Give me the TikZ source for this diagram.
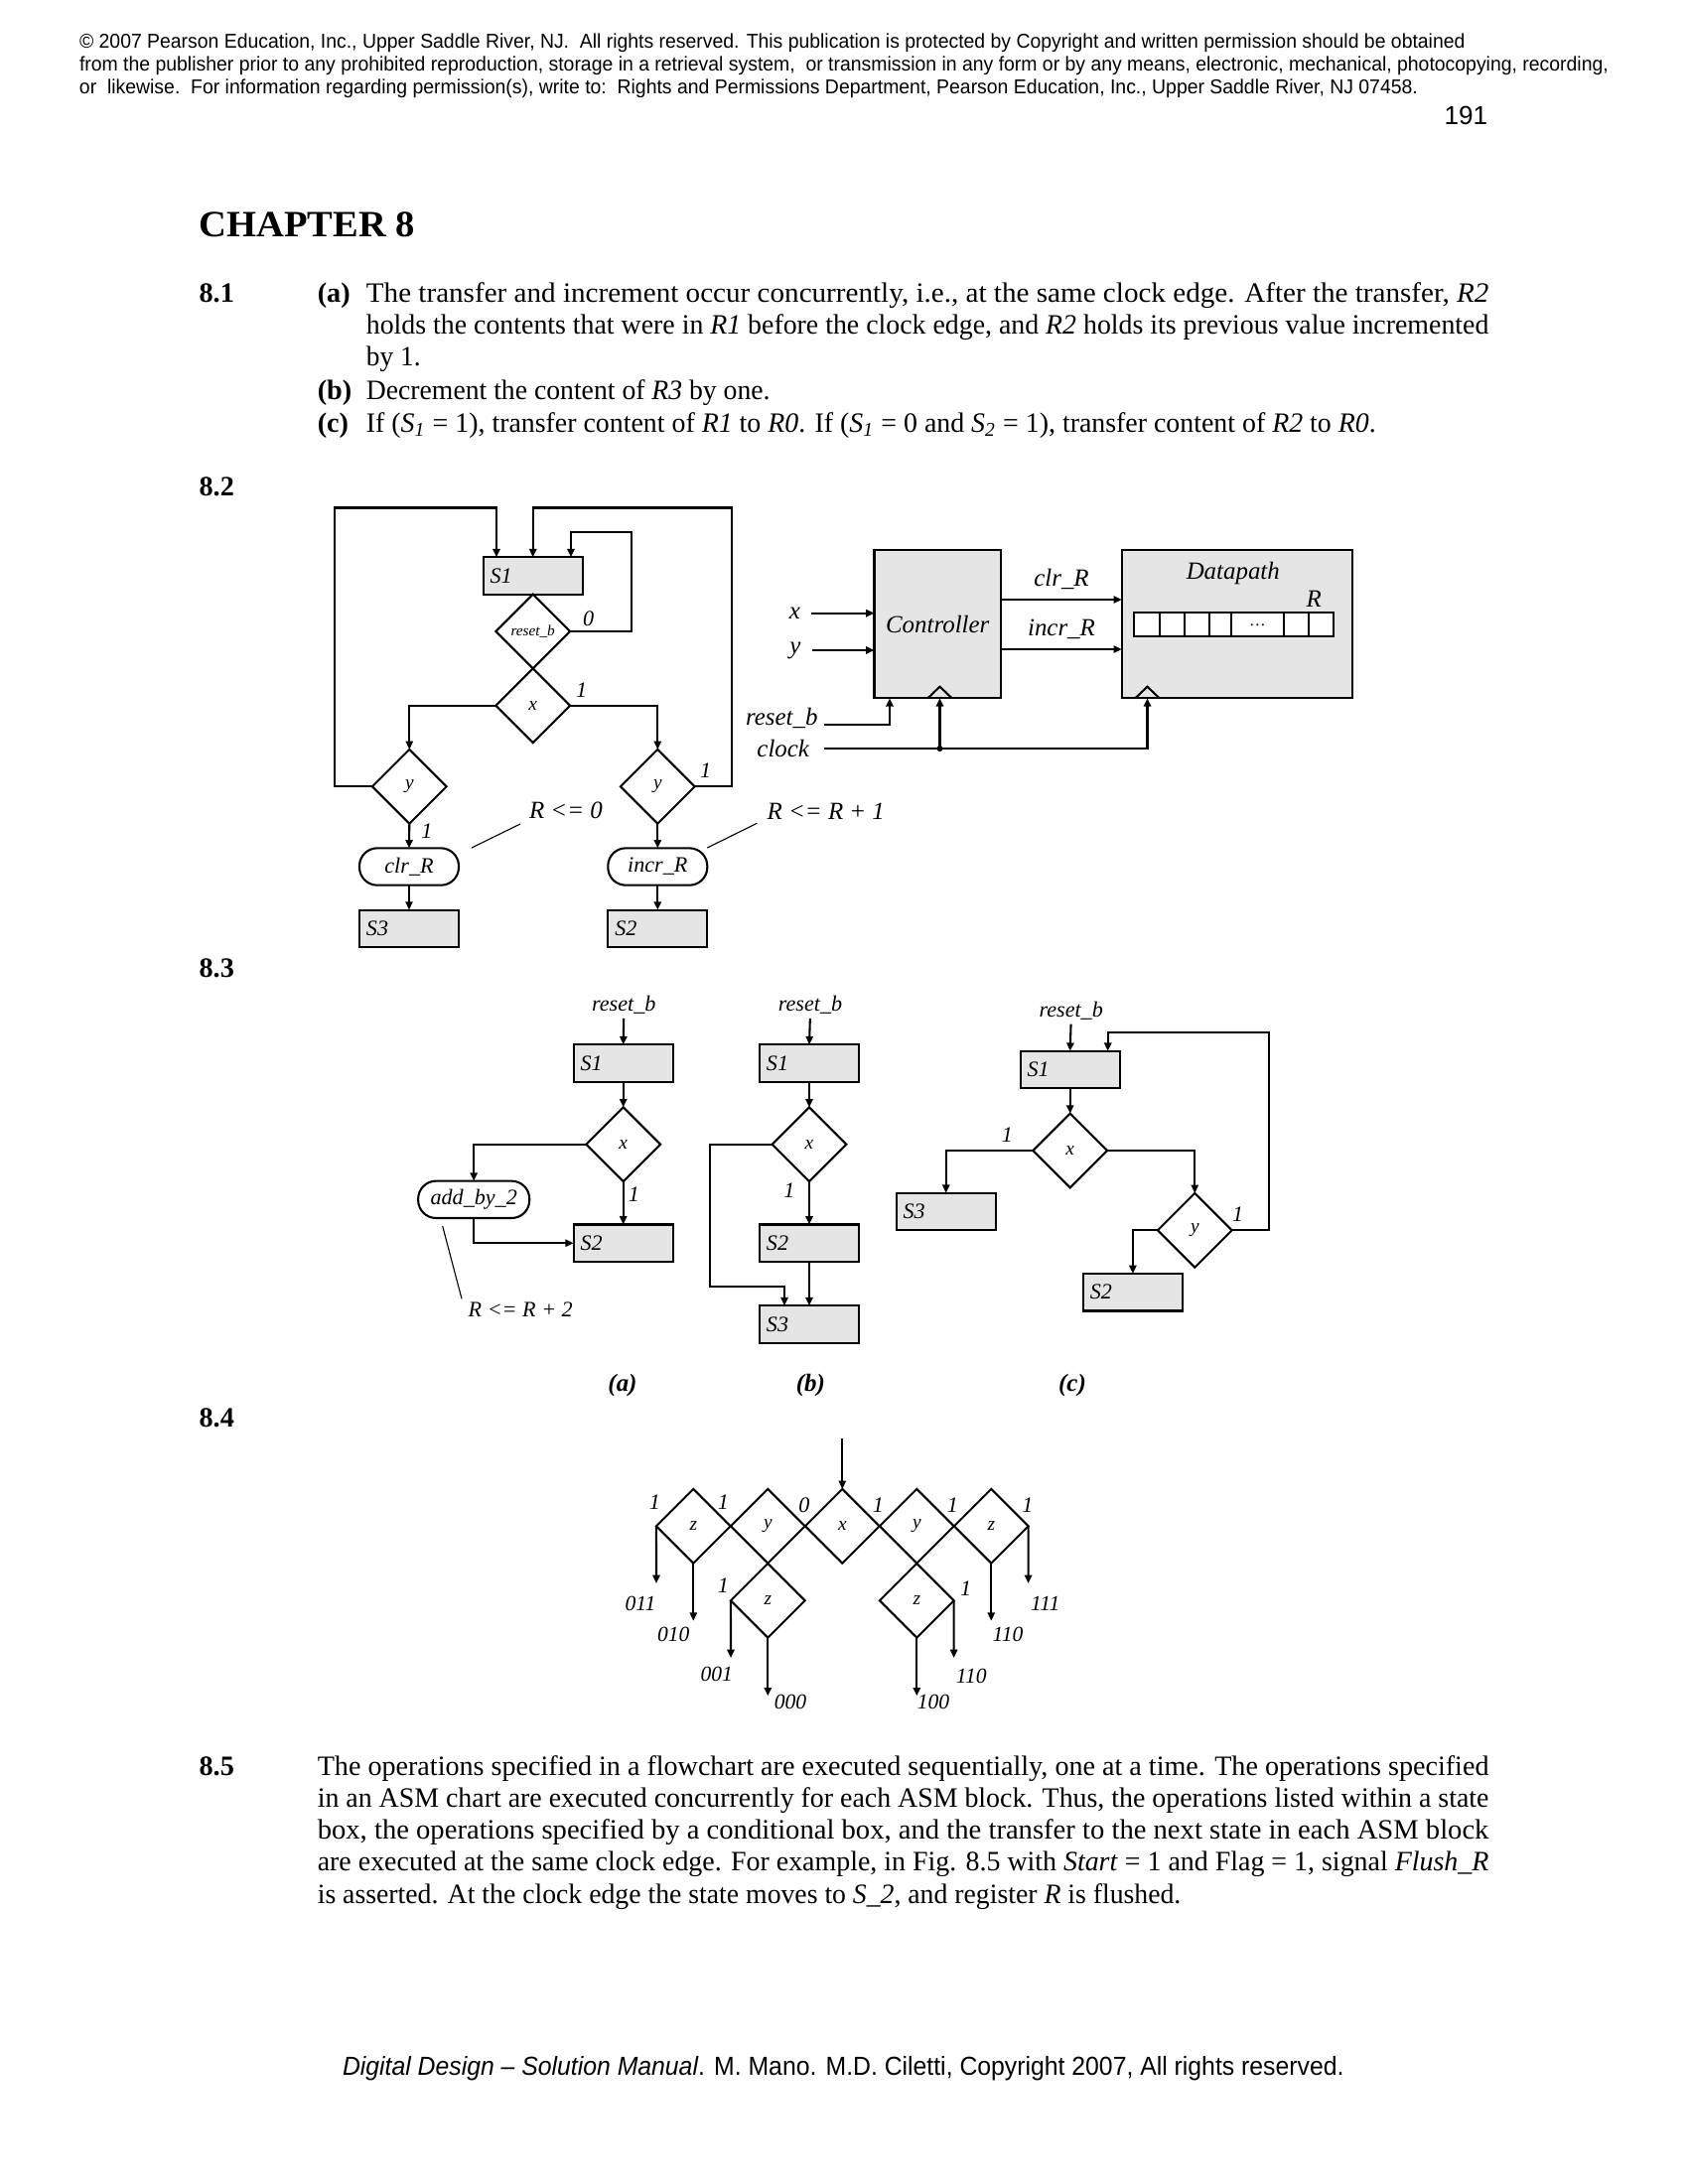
\documentclass[tikz,border=0pt]{standalone}
\usepackage{fontspec}
\setmainfont{Liberation Serif}
\newfontfamily\hdr{Liberation Sans}
\usepackage{graphicx}
\usetikzlibrary{arrows.meta,shapes.geometric,calc}

\definecolor{boxgray}{gray}{0.9}
\newdimen\pxu \pxu=0.36135pt
% fit a line of text to a width given in reference pixels
\newcommand{\fitw}[2]{\resizebox{#1\pxu}{\height}{#2}}
\newcommand{\sv}[1]{\textit{S}\textsubscript{\textit{#1}}}

\begin{document}
\begin{tikzpicture}[
  x=0.36135pt, y=-0.36135pt,
  >={Triangle[length=3pt,width=2.6pt]},
  line join=miter,
  every node/.style={inner sep=0pt, outer sep=0pt},
  hdrline/.style={anchor=base west, font=\hdr\fontsize{7.3}{8.5}\selectfont},
  body/.style={anchor=base west, font=\fontsize{10.2}{12}\selectfont},
  secnum/.style={anchor=base west, font=\fontsize{10.2}{12}\selectfont\bfseries},
  wire/.style={line width=0.75pt},
  lead/.style={line width=0.4pt},
  dlbl/.style={font=\fontsize{8}{9}\selectfont\itshape},
  blbl/.style={font=\fontsize{9}{10}\selectfont\itshape},
  nlbl/.style={font=\fontsize{7.8}{9}\selectfont\itshape},
  statebox/.style={draw, wire, fill=boxgray, minimum width=36.14pt, minimum height=13.55pt,
    text width=31.1pt, inner xsep=2.5pt, align=left, font=\fontsize{8}{9}\selectfont\itshape},
  condbox/.style={draw, wire, rounded corners=6.5pt, minimum width=36.14pt, minimum height=13.5pt,
    font=\fontsize{8}{9}\selectfont\itshape},
  decision/.style={draw, wire, diamond, aspect=1, minimum size=27pt, font=\fontsize{7}{8}\selectfont\itshape}
]
  \fill[white] (0,0) rectangle (1700,2200);
  \useasboundingbox (0,0) rectangle (1700,2200);

  % page header
  \node[hdrline] (hdr1) at (80,48.5) {\fitw{1395.6}{\textcopyright{} 2007 Pearson Education, Inc., Upper Saddle River, NJ.\ \ All rights reserved. This publication is protected by Copyright and written permission should be obtained}};
  \node[hdrline] (hdr2) at (80,71.5) {\fitw{1540}{from the publisher prior to any prohibited reproduction, storage in a retrieval system,\ \ or transmission in any form or by any means, electronic, mechanical, photocopying, recording,}};
  \node[hdrline] (hdr3) at (80,94.5) {\fitw{1348}{or\ \ likewise.\ \ For information regarding permission(s), write to:\ \ Rights and Permissions Department, Pearson Education, Inc., Upper Saddle River, NJ 07458.}};
  \node[anchor=base west, font=\hdr\fontsize{9.5}{11}\selectfont] (pgno) at (1454.5,125) {\fitw{43.5}{191}};

  \node[anchor=base west, font=\fontsize{13.5}{16}\selectfont\bfseries] (chap) at (200.6,238) {\fitw{217.4}{CHAPTER 8}};

  % 8.1
  \node[secnum] (n81) at (200.6,304) {8.1};
  \node[secnum] (p81a) at (319.8,304) {(a)};
  \node[body] (t81a1) at (368.9,304) {\fitw{1130.5}{The transfer and increment occur concurrently, i.e., at the same clock edge. After the transfer, \textit{R2}}};
  \node[body] (t81a2) at (368.9,336.2) {\fitw{1130.5}{holds the contents that were in \textit{R1} before the clock edge, and \textit{R2} holds its previous value incremented}};
  \node[body] (t81a3) at (368.9,368.5) {\fitw{54.7}{by 1.}};
  \node[secnum] (p81b) at (319.8,402.1) {(b)};
  \node[body] (t81b) at (368.9,402.1) {\fitw{406.7}{Decrement the content of \textit{R3} by one.}};
  \node[secnum] (p81c) at (319.8,435.8) {(c)};
  \node[body] (t81c) at (368.9,435.8) {\fitw{1016.9}{If (\sv{1} = 1), transfer content of \textit{R1} to \textit{R0}. If (\sv{1} = 0 and \sv{2} = 1), transfer content of \textit{R2} to \textit{R0}.}};

  % 8.2 ASM chart
  \node[secnum] (n82) at (200.6,499) {8.2};
  \node[statebox] (s1) at (536.7,580) {S1};
  \node[decision, font=\fontsize{5.5}{6}\selectfont\itshape] (rst) at (536.7,636) {reset\_b};
  \node[decision] (xd) at (536.7,710.7) {x};
  \node[decision] (yl) at (412.3,792.3) {y};
  \node[decision] (yr) at (662.3,792.3) {y};
  \node[condbox] (clr) at (412,873) {clr\_R};
  \node[condbox] (incr) at (662.3,873) {incr\_R};
  \node[statebox] (s3) at (412,935.3) {S3};
  \node[statebox] (s2) at (662.3,935.3) {S2};

  \coordinate (loopL) at (337.3,511.5);
  \coordinate (loopR) at (736.7,511.5);
  \coordinate (loopS) at (636,536);
  \coordinate (inL) at (500,561.25);
  \coordinate (inS) at (575,561.25);
  \draw[wire,->] (yl.west) -| (loopL) -| (inL);
  \draw[wire,->] (yr.east) -| (loopR) -| (s1.north);
  \draw[wire,->] (rst.east) -| (loopS) -| (inS);
  \draw[wire,->] (xd.west) -| (yl.north);
  \draw[wire,->] (xd.east) -| (yr.north);
  \draw[wire,->] (yl.south) -- (clr.north);
  \draw[wire,->] (clr.south) -- (s3.north);
  \draw[wire,->] (yr.south) -- (incr.north);
  \draw[wire,->] (incr.south) -- (s2.north);
  \node[dlbl] (b0) at (592.7,623) {0};
  \node[dlbl] (b1) at (585.7,695) {1};
  \node[dlbl] (b2) at (430,837) {1};
  \node[dlbl] (b3) at (710.7,776) {1};

  \coordinate (ldA1) at (475,854);
  \coordinate (ldA2) at (524,830);
  \draw[lead] (ldA1) -- (ldA2);
  \node[blbl, anchor=base west] (opA) at (533,824) {R <= 0};
  \coordinate (ldB1) at (712.3,854);
  \coordinate (ldB2) at (762.3,829.3);
  \draw[lead] (ldB1) -- (ldB2);
  \node[blbl, anchor=base west] (opB) at (772.7,825) {R <= R + 1};

  % block diagram
  \node[draw, wire, fill=boxgray, minimum width=46.07pt, minimum height=53.95pt, blbl] (ctrl) at (944.25,628.65) {Controller};
  \node[draw, wire, fill=boxgray, minimum width=83.9pt, minimum height=53.95pt] (dp) at (1245.9,628.65) {};
  \node[blbl] (dptxt) at (1241.8,577.3) {Datapath};
  \node[blbl] (rname) at (1323.3,603.3) {R};
  \node[draw, wire, fill=white, minimum width=72.45pt, minimum height=8.67pt] (reg) at (1242.65,628.7) {};
  \foreach \cx in {1167.7,1192.6,1217.8,1240.2,1292.8,1317.6}
    \draw[wire] (\cx,616.7) -- (\cx,640.7);
  \node[font=\fontsize{6}{7}\selectfont] (dots) at (1266.5,630) {\dots};
  \draw[wire] (934.3,703.3) -- (946.5,691.7) -- (958.7,703.3);
  \draw[wire] (1143.3,703.3) -- (1155.5,691.7) -- (1167.7,703.3);

  \coordinate (clrout) at (1008,604);
  \coordinate (incrout) at (1008,654);
  \draw[wire,->] (clrout) -- (clrout -| dp.west);
  \draw[wire,->] (incrout) -- (incrout -| dp.west);
  \node[blbl] (clrsig) at (1069,583.3) {clr\_R};
  \node[blbl] (incrsig) at (1069,634) {incr\_R};

  \node[blbl] (xin) at (800.3,617.7) {x};
  \node[blbl] (yin) at (801,655) {y};
  \draw[wire,->,shorten <=4pt] (xin.east) -- (xin.east -| ctrl.west);
  \draw[wire,->,shorten <=4pt] (yin.east) -- (yin.east -| ctrl.west);
  \node[blbl, anchor=base east] (rstin) at (823.5,730) {reset\_b};
  \coordinate (ctrlrst) at (896,703.3);
  \draw[wire,->,shorten <=2.5pt] (rstin.base east) -| (ctrlrst);
  \node[blbl, anchor=east] (clkin) at (815,754) {clock};
  \coordinate (clkj) at (946.5,754);
  \coordinate (ctrlclk) at (946.5,703.3);
  \coordinate (dpclk) at (1155.5,703.3);
  \draw[wire,->,shorten <=5.4pt] (clkin.east) -| (dpclk);
  \draw[wire,->] (clkj) -- (ctrlclk);
  \fill (clkj) circle (1.1pt);

  % 8.3 (a)
  \node[secnum] (n83) at (200.6,984) {8.3};
  \node[dlbl] (rstA) at (628.3,1012.7) {reset\_b};
  \node[statebox] (s1A) at (627.7,1071) {S1};
  \node[decision] (xA) at (627.7,1152.7) {x};
  \node[condbox, minimum width=40.5pt] (addA) at (477.2,1208.3) {add\_by\_2};
  \node[statebox] (s2A) at (627.7,1252.2) {S2};
  \draw[wire,->,shorten <=1.5pt] (rstA.south) -- (s1A.north);
  \draw[wire,->] (s1A.south) -- (xA.north);
  \draw[wire,->] (xA.west) -| (addA.north);
  \draw[wire,->] (addA.south) |- (s2A.west);
  \draw[wire,->] (xA.south) -- (s2A.north);
  \node[dlbl] (oneA) at (638.3,1203.3) {1};
  \coordinate (ldC1) at (445.7,1235);
  \coordinate (ldC2) at (465,1308.3);
  \draw[lead] (ldC1) -- (ldC2);
  \node[dlbl, anchor=base west] (opC) at (471.7,1326.7) {R <= R + 2};

  % 8.3 (b)
  \node[dlbl] (rstB) at (816,1012.7) {reset\_b};
  \node[statebox] (s1B) at (815,1071) {S1};
  \node[decision] (xB) at (815,1152.7) {x};
  \node[statebox] (s2B) at (815,1252.2) {S2};
  \node[statebox] (s3B) at (815,1333.9) {S3};
  \coordinate (loopB) at (715,1296);
  \coordinate (inB) at (790,1315.15);
  \draw[wire,->,shorten <=1.5pt] (rstB.south) -- (s1B.north);
  \draw[wire,->] (s1B.south) -- (xB.north);
  \draw[wire,->] (xB.south) -- (s2B.north);
  \draw[wire,->] (xB.west) -| (loopB) -| (inB);
  \draw[wire,->] (s2B.south) -- (s3B.north);
  \node[dlbl] (oneB) at (795,1199.3) {1};

  % 8.3 (c)
  \node[dlbl] (rstC) at (1078.7,1018.3) {reset\_b};
  \node[statebox] (s1C) at (1077.7,1077.5) {S1};
  \node[decision] (xC) at (1077.7,1159) {x};
  \node[statebox] (s3C) at (952.7,1220.5) {S3};
  \node[decision] (yC) at (1203.3,1239.3) {y};
  \node[statebox] (s2C) at (1140.9,1301.7) {S2};
  \coordinate (loopC) at (1278.3,1040);
  \coordinate (inC) at (1115.7,1058.75);
  \draw[wire,->,shorten <=1.5pt] (rstC.south) -- (s1C.north);
  \draw[wire,->] (s1C.south) -- (xC.north);
  \draw[wire,->] (xC.west) -| (s3C.north);
  \draw[wire,->] (xC.east) -| (yC.north);
  \draw[wire,->] (yC.east) -| (loopC) -| (inC);
  \draw[wire,->] (yC.west) -| (s2C.north);
  \node[dlbl] (oneC1) at (1014.3,1142.7) {1};
  \node[dlbl] (oneC2) at (1246.7,1222.7) {1};

  \node[font=\fontsize{9}{10}\selectfont\bfseries\itshape] (capa) at (627,1395.6) {(a)};
  \node[font=\fontsize{9}{10}\selectfont\bfseries\itshape] (capb) at (816.3,1395.6) {(b)};
  \node[font=\fontsize{9}{10}\selectfont\bfseries\itshape] (capc) at (1080,1395.6) {(c)};

  % 8.4 decision tree
  \node[secnum] (n84) at (200.6,1437) {8.4};
  \coordinate (in84) at (848.3,1449.3);
  \node[decision] (dx) at (848.3,1537.3) {x};
  \node[decision] (dyl) at (773.3,1537.3) {y};
  \node[decision] (dzl) at (698.3,1537.3) {z};
  \node[decision] (dyr) at (923.3,1537.3) {y};
  \node[decision] (dzr) at (998.3,1537.3) {z};
  \node[decision] (dzlb) at (773.3,1612.3) {z};
  \node[decision] (dzrb) at (923.3,1612.3) {z};
  \draw[wire,->] (in84) -- (dx.north);
  \coordinate (o011) at (661,1595);
  \coordinate (o010) at (698.3,1632.7);
  \coordinate (o001) at (736,1670);
  \coordinate (o000) at (773.3,1708.3);
  \coordinate (o100) at (923.3,1708.3);
  \coordinate (o110a) at (960.6,1670);
  \coordinate (o110b) at (998.3,1632.7);
  \coordinate (o111) at (1035.6,1595);
  \draw[wire,->] (dzl.west) -- (o011);
  \draw[wire,->] (dzl.south) -- (o010);
  \draw[wire,->] (dzlb.west) -- (o001);
  \draw[wire,->] (dzlb.south) -- (o000);
  \draw[wire,->] (dzrb.south) -- (o100);
  \draw[wire,->] (dzrb.east) -- (o110a);
  \draw[wire,->] (dzr.south) -- (o110b);
  \draw[wire,->] (dzr.east) -- (o111);
  \node[nlbl] (v011) at (645,1615) {011};
  \node[nlbl] (v010) at (678.3,1646) {010};
  \node[nlbl] (v001) at (721.7,1686.7) {001};
  \node[nlbl] (v000) at (796,1714) {000};
  \node[nlbl] (v100) at (940,1714) {100};
  \node[nlbl] (v110a) at (978.3,1688.3) {110};
  \node[nlbl] (v110b) at (1015,1646) {110};
  \node[nlbl] (v111) at (1052.7,1615) {111};
  \foreach \bx/\by/\bv in {659.3/1513.3/1, 728.3/1513.3/1, 810/1516/0, 884.3/1516/1,
      959.3/1516/1, 1035/1516/1, 728.3/1596.7/1, 972.7/1600/1}
    \node[dlbl] at (\bx,\by) {\bv};

  % 8.5
  \node[secnum] (n85) at (200.6,1788) {8.5};
  \node[body] (t85a) at (319.8,1788) {\fitw{1179.6}{The operations specified in a flowchart are executed sequentially, one at a time. The operations specified}};
  \node[body] (t85b) at (319.8,1820) {\fitw{1179.6}{in an ASM chart are executed concurrently for each ASM block. Thus, the operations listed within a state}};
  \node[body] (t85c) at (319.8,1852.4) {\fitw{1179.6}{box, the operations specified by a conditional box, and the transfer to the next state in each ASM block}};
  \node[body] (t85d) at (319.8,1884.7) {\fitw{1179.6}{are executed at the same clock edge. For example, in Fig. 8.5 with \textit{Start} = 1 and Flag = 1, signal \textit{Flush\_R}}};
  \node[body] (t85e) at (319.8,1917) {\fitw{869.6}{is asserted. At the clock edge the state moves to \textit{S\_2}, and register \textit{R} is flushed.}};

  % footer
  \node[anchor=base west, font=\hdr\fontsize{9.5}{11}\selectfont] (foot) at (345,2090) {\fitw{1008.5}{\textit{Digital Design – Solution Manual}. M. Mano. M.D. Ciletti, Copyright 2007, All rights reserved.}};
\end{tikzpicture}
\end{document}
